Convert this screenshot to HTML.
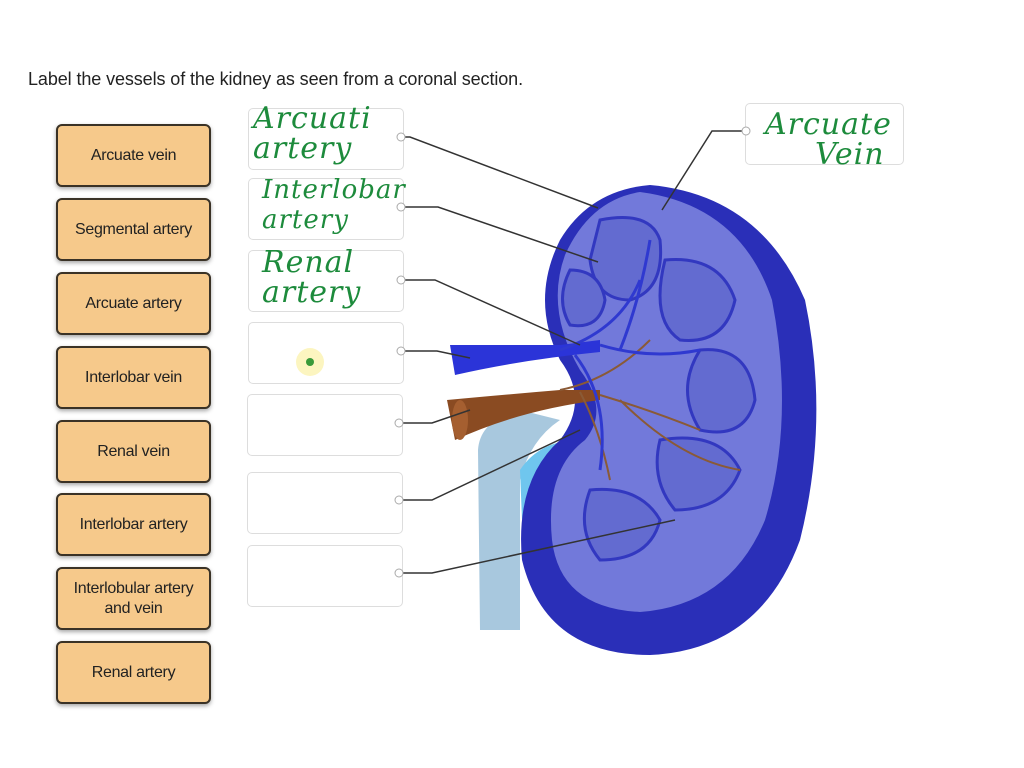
<!DOCTYPE html>
<html><head><style>
body{margin:0;background:#fff;width:1024px;height:768px;position:relative;overflow:hidden;font-family:"Liberation Sans",sans-serif}
.t{position:absolute;left:28px;top:69px;font-size:18px;color:#222;letter-spacing:-0.1px}
.b{position:absolute;left:56px;width:151px;height:59px;background:#f6c98b;border:2px solid #3a3226;border-radius:6px;box-shadow:0 2px 4px rgba(0,0,0,.35);display:flex;align-items:center;justify-content:center;text-align:center;font-size:16px;color:#222;line-height:20px;letter-spacing:-0.3px}
.l{position:absolute;width:154px;height:60px;border:1px solid #ddd;border-radius:5px;background:#fff}
.h{position:absolute;color:#1d8b3c;font-family:"DejaVu Serif",serif;font-style:italic;font-size:30px;line-height:30px;letter-spacing:1px}
svg{position:absolute;left:0;top:0}
</style></head><body>
<div class="t">Label the vessels of the kidney as seen from a coronal section.</div>
<div class="b" style="top:124px">Arcuate vein</div>
<div class="b" style="top:198px">Segmental artery</div>
<div class="b" style="top:272px">Arcuate artery</div>
<div class="b" style="top:346px">Interlobar vein</div>
<div class="b" style="top:420px">Renal vein</div>
<div class="b" style="top:493px">Interlobar artery</div>
<div class="b" style="top:567px">Interlobular artery<br>and vein</div>
<div class="b" style="top:641px">Renal artery</div>
<div class="l" style="left:248px;top:108px"></div>
<div class="l" style="left:248px;top:178px"></div>
<div class="l" style="left:248px;top:250px"></div>
<div class="l" style="left:248px;top:322px"></div>
<div class="l" style="left:247px;top:394px"></div>
<div class="l" style="left:247px;top:472px"></div>
<div class="l" style="left:247px;top:545px"></div>
<div class="l" style="left:745px;top:103px;width:157px"></div>
<svg width="1024" height="768">
<path d="M478 450 Q480 420 520 410 L560 420 Q530 440 520 480 L520 630 L480 630Z" fill="#a8c8de"/>
<path d="M520 470 Q540 440 580 440 L560 490 Q530 490 522 520Z" fill="#6fc6ee"/>
<path d="M650 185 Q760 195 805 300 Q830 420 800 540 Q760 650 650 655 Q545 655 522 560 Q515 480 560 440 Q590 400 560 360 Q530 300 560 240 Q590 190 650 185Z" fill="#2a2fb8"/>
<path d="M640 192 Q740 205 772 300 Q795 420 765 520 Q730 605 640 612 Q560 608 552 540 Q545 470 585 440 Q610 410 580 370 Q545 310 565 255 Q590 200 640 192Z" fill="#7279da"/>
<g fill="#636bd0" stroke="#3238c0" stroke-width="3">
<path d="M600 220 Q650 210 660 240 Q665 290 630 300 Q595 300 590 260Z"/>
<path d="M570 270 Q600 270 605 300 Q600 330 570 325 Q555 300 570 270Z"/>
<path d="M665 260 Q720 255 735 300 Q725 345 680 340 Q650 320 665 260Z"/>
<path d="M700 350 Q750 345 755 400 Q745 440 700 430 Q675 390 700 350Z"/>
<path d="M660 440 Q720 430 740 470 Q725 510 675 510 Q650 480 660 440Z"/>
<path d="M590 490 Q640 485 660 520 Q650 560 600 560 Q575 530 590 490Z"/>
</g>
<path d="M450 345 Q500 345 560 345 L600 340 L600 352 Q520 360 455 375Z" fill="#2b34d8"/>
<path d="M447 400 Q500 395 560 390 L600 390 L600 400 Q520 410 455 440Z" fill="#8a4b22"/>
<ellipse cx="460" cy="420" rx="8" ry="20" fill="#a55f30"/>
<g fill="none" stroke="#8a5a36" stroke-width="2">
<path d="M560 390 Q610 380 650 340 M600 395 Q650 410 700 430 M580 392 Q600 430 610 480 M620 400 Q680 460 740 470"/>
</g>
<g fill="none" stroke="#2f39d0" stroke-width="3">
<path d="M560 350 Q620 330 640 280 M600 345 Q650 360 700 350 M575 355 Q610 400 600 470 M620 350 Q640 300 650 240"/>
</g>
<g stroke="#333" stroke-width="1.5" fill="none">
<path d="M404 137 L410 137 L598 208"/>
<path d="M404 207 L438 207 L598 262"/>
<path d="M404 280 L435 280 L580 345"/>
<path d="M404 351 L437 351 L470 358"/>
<path d="M403 423 L432 423 L470 410"/>
<path d="M403 500 L432 500 L580 430"/>
<path d="M403 573 L432 573 L675 520"/>
<path d="M745 131 L712 131 L662 210"/>
</g>
<g fill="#fff" stroke="#aaa"><circle cx="401" cy="137" r="4"/><circle cx="401" cy="207" r="4"/><circle cx="401" cy="280" r="4"/><circle cx="401" cy="351" r="4"/><circle cx="399" cy="423" r="4"/><circle cx="399" cy="500" r="4"/><circle cx="399" cy="573" r="4"/><circle cx="746" cy="131" r="4"/></g>
<circle cx="310" cy="362" r="14" fill="#fbf3b0" opacity=".8"/><circle cx="310" cy="362" r="4" fill="#3a9a3a"/>
</svg>
<div class="h" style="left:253px;top:104px">Arcuati<br>artery</div>
<div class="h" style="left:262px;top:175px;font-size:26px">Interlobar<br>artery</div>
<div class="h" style="left:262px;top:248px">Renal<br>artery</div>
<div class="h" style="left:765px;top:110px">Arcuate<br><span style="padding-left:50px">Vein</span></div>
</body></html>
